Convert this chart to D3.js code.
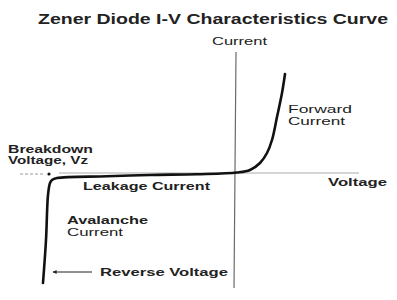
<!DOCTYPE html>
<html>
<head>
<meta charset="utf-8">
<script src="https://cdn.jsdelivr.net/npm/d3@7"></script>
<style>
  body { margin: 0; background: #fff; }
  text { font-family: "Liberation Sans", Arial, sans-serif; fill: #222; }
</style>
</head>
<body>
<div id="chart"></div>
<script>
// ==== DATA (voltage, current in arbitrary units) ====
const CURVE_V = [-9.7, -9.55, -9.45, -9.35, -9.25, -9.0, -6.5, -4.35, -2.0, 0, 0.65, 1.15, 1.5, 1.75, 2.0, 2.25, 2.4];
const CURVE_I = [-11.0, -6.7, -2.2, -1.0, -0.7, -0.5, -0.33, -0.2, -0.12, 0.05, 0.3, 1.0, 2.0, 3.3, 5.6, 8.0, 9.9];
const VZ = -9.4;          // breakdown voltage marker
const ARROW_V = [-7.25, -9.2];
const ARROW_I = -9.9;

// ==== SIZE ====
const width = 397;
const height = 300;

// ==== SCALES ====
const x = d3.scaleLinear().domain([-11, 7.5]).range([17, 387]);
const y = d3.scaleLinear().domain([-12, 12]).range([293, 53]);

const svg = d3.select("#chart")
  .append("svg")
  .attr("width", width)
  .attr("height", height);

// Title
svg.append("text")
  .attr("x", 38).attr("y", 24)
  .attr("font-size", 14).attr("font-weight", "bold")
  .attr("textLength", 350).attr("lengthAdjust", "spacingAndGlyphs")
  .text("Zener Diode I-V Characteristics Curve");

// Axes
svg.append("line")
  .attr("x1", x(-0.05)).attr("x2", x(-0.15))
  .attr("y1", y(12.1)).attr("y2", y(-11.5))
  .attr("stroke", "#6a6a6a").attr("stroke-width", 1.2);

svg.append("line")
  .attr("x1", x(-8.9)).attr("x2", x(6.1))
  .attr("y1", y(0)).attr("y2", y(0))
  .attr("stroke", "#aaa").attr("stroke-width", 1);

// dashed lead-in to breakdown point
svg.append("line")
  .attr("x1", x(-10.85)).attr("x2", x(VZ - 0.2))
  .attr("y1", y(-0.1)).attr("y2", y(-0.1))
  .attr("stroke", "#999").attr("stroke-width", 1)
  .attr("stroke-dasharray", "3,2");

svg.append("circle")
  .attr("cx", x(VZ)).attr("cy", y(-0.1)).attr("r", 1.6)
  .attr("fill", "#111");

// Curve
const pts = CURVE_V.map((v, i) => [v, CURVE_I[i]]);
const line = d3.line()
  .x(d => x(d[0]))
  .y(d => y(d[1]))
  .curve(d3.curveCatmullRom.alpha(0.5));

svg.append("path")
  .datum(pts)
  .attr("fill", "none")
  .attr("stroke", "#111")
  .attr("stroke-width", 2.6)
  .attr("stroke-linecap", "round")
  .attr("d", line);

// Reverse voltage arrow
svg.append("defs").append("marker")
  .attr("id", "arr")
  .attr("viewBox", "0 0 10 10")
  .attr("refX", 9).attr("refY", 5)
  .attr("markerWidth", 6).attr("markerHeight", 4)
  .attr("orient", "auto")
  .append("path").attr("d", "M0,0L10,5L0,10z").attr("fill", "#222");

svg.append("line")
  .attr("x1", x(ARROW_V[0])).attr("x2", x(ARROW_V[1]))
  .attr("y1", y(ARROW_I)).attr("y2", y(ARROW_I))
  .attr("stroke", "#222").attr("stroke-width", 1)
  .attr("marker-end", "url(#arr)");

// Labels
const labels = [
  { t: "Current", x: 212, y: 45, w: 55, b: false },
  { t: "Forward", x: 288, y: 113, w: 64, b: false },
  { t: "Current", x: 288, y: 125, w: 57, b: false },
  { t: "Breakdown", x: 8, y: 153, w: 85, b: true },
  { t: "Voltage, Vz", x: 8, y: 164, w: 80, b: true },
  { t: "Leakage Current", x: 83, y: 190, w: 127, b: true },
  { t: "Voltage", x: 328, y: 186, w: 59, b: true },
  { t: "Avalanche", x: 67, y: 224, w: 81, b: true },
  { t: "Current", x: 67, y: 236, w: 56, b: false },
  { t: "Reverse Voltage", x: 100, y: 276, w: 128, b: true }
];

svg.selectAll("text.lbl")
  .data(labels)
  .enter()
  .append("text")
  .attr("class", "lbl")
  .attr("x", d => d.x)
  .attr("y", d => d.y)
  .attr("font-size", 11)
  .attr("font-weight", d => d.b ? "bold" : "normal")
  .attr("textLength", d => d.w)
  .attr("lengthAdjust", "spacingAndGlyphs")
  .text(d => d.t);
</script>
</body>
</html>
